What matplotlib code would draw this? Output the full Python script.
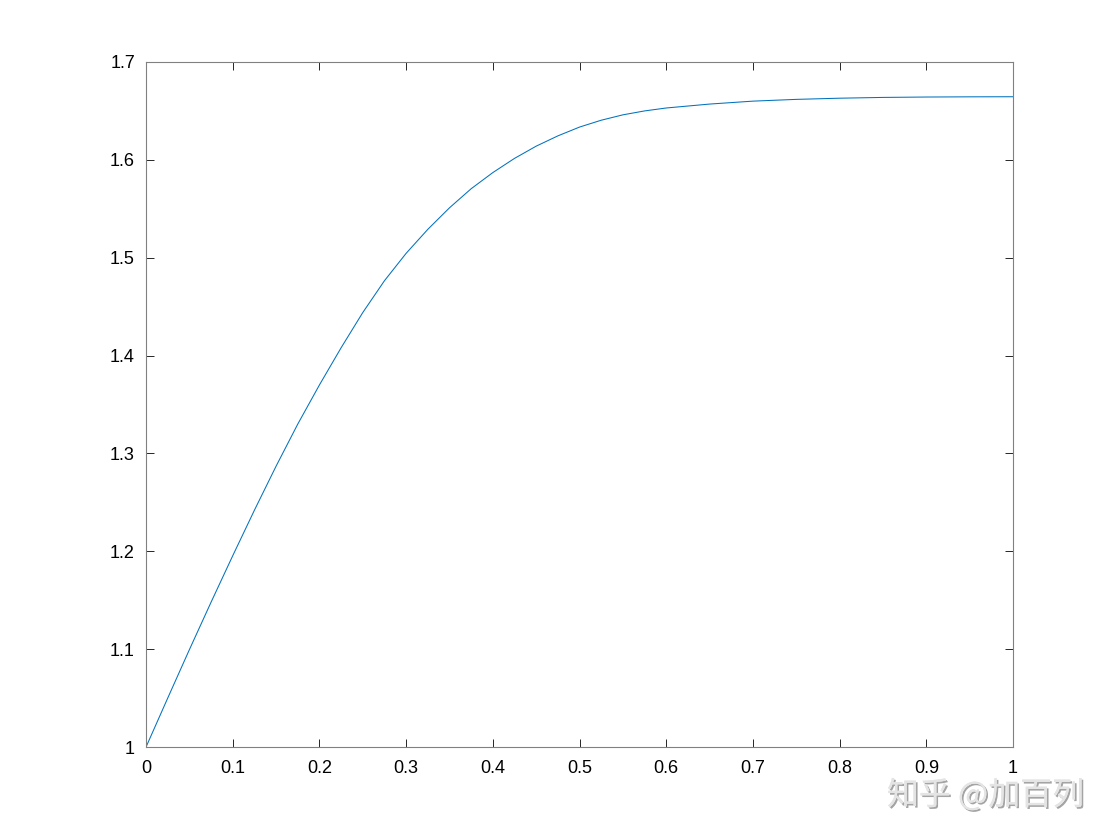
import matplotlib
matplotlib.use("Agg")
import matplotlib.pyplot as plt
import matplotlib.patheffects as pe

x_vals = [0.0, 0.025, 0.05, 0.075, 0.1, 0.125, 0.15, 0.175, 0.2, 0.225, 0.25, 0.275,
          0.3, 0.325, 0.35, 0.375, 0.4, 0.425, 0.45, 0.475, 0.5, 0.525, 0.55, 0.575,
          0.6, 0.65, 0.7, 0.75, 0.8, 0.85, 0.9, 0.95, 1.0]
y_vals = [1.000, 1.050, 1.0995, 1.148, 1.1955, 1.2420, 1.2870, 1.3300, 1.3700, 1.4080, 1.4440, 1.4765,
          1.5045, 1.5290, 1.5510, 1.5705, 1.5870, 1.6015, 1.6140, 1.6245, 1.6335, 1.6405, 1.6460, 1.6500,
          1.6530, 1.6570, 1.6600, 1.6618, 1.6630, 1.6638, 1.6642, 1.6644, 1.6645]
x_ticks = [0, 0.1, 0.2, 0.3, 0.4, 0.5, 0.6, 0.7, 0.8, 0.9, 1]
x_tick_labels = ["0", "0.1", "0.2", "0.3", "0.4", "0.5", "0.6", "0.7", "0.8", "0.9", "1"]
y_ticks = [1, 1.1, 1.2, 1.3, 1.4, 1.5, 1.6, 1.7]
y_tick_labels = ["1", "1.1", "1.2", "1.3", "1.4", "1.5", "1.6", "1.7"]
watermark = "知乎 @加百列"

plt.rcParams['font.family'] = ['Liberation Sans', 'DejaVu Sans']

fig = plt.figure(figsize=(11.2, 8.4), dpi=100)
ax = fig.add_axes([0.1304, 0.1107, 0.7741, 0.8155])
ax.plot(x_vals, y_vals, color=(0, 0.447, 0.741), linewidth=0.75)
ax.set_xlim(0, 1)
ax.set_ylim(1, 1.7)
ax.set_xticks(x_ticks)
ax.set_xticklabels(x_tick_labels)
ax.set_yticks(y_ticks)
ax.set_yticklabels(y_tick_labels)
axcol = (0.15, 0.15, 0.15)
for s in ax.spines.values():
    s.set_color((0.5, 0.5, 0.5))
    s.set_linewidth(0.8)
ax.tick_params(direction='in', length=6, width=0.7, color=axcol,
               top=True, right=True, labelsize=13, labelcolor='black')
ax.tick_params(axis='x', pad=9)
ax.tick_params(axis='y', pad=8)

fig.text(0.880, 0.053, watermark, ha='center', va='center', fontsize=23,
         color='#e4e4e4', family=['Noto Sans CJK SC', 'DejaVu Sans'],
         path_effects=[pe.withSimplePatchShadow(offset=(1.2, -1.2), shadow_rgbFace='#9a9a9a', alpha=0.9),
                       pe.Normal()])

fig.savefig("out.png", dpi=100)
